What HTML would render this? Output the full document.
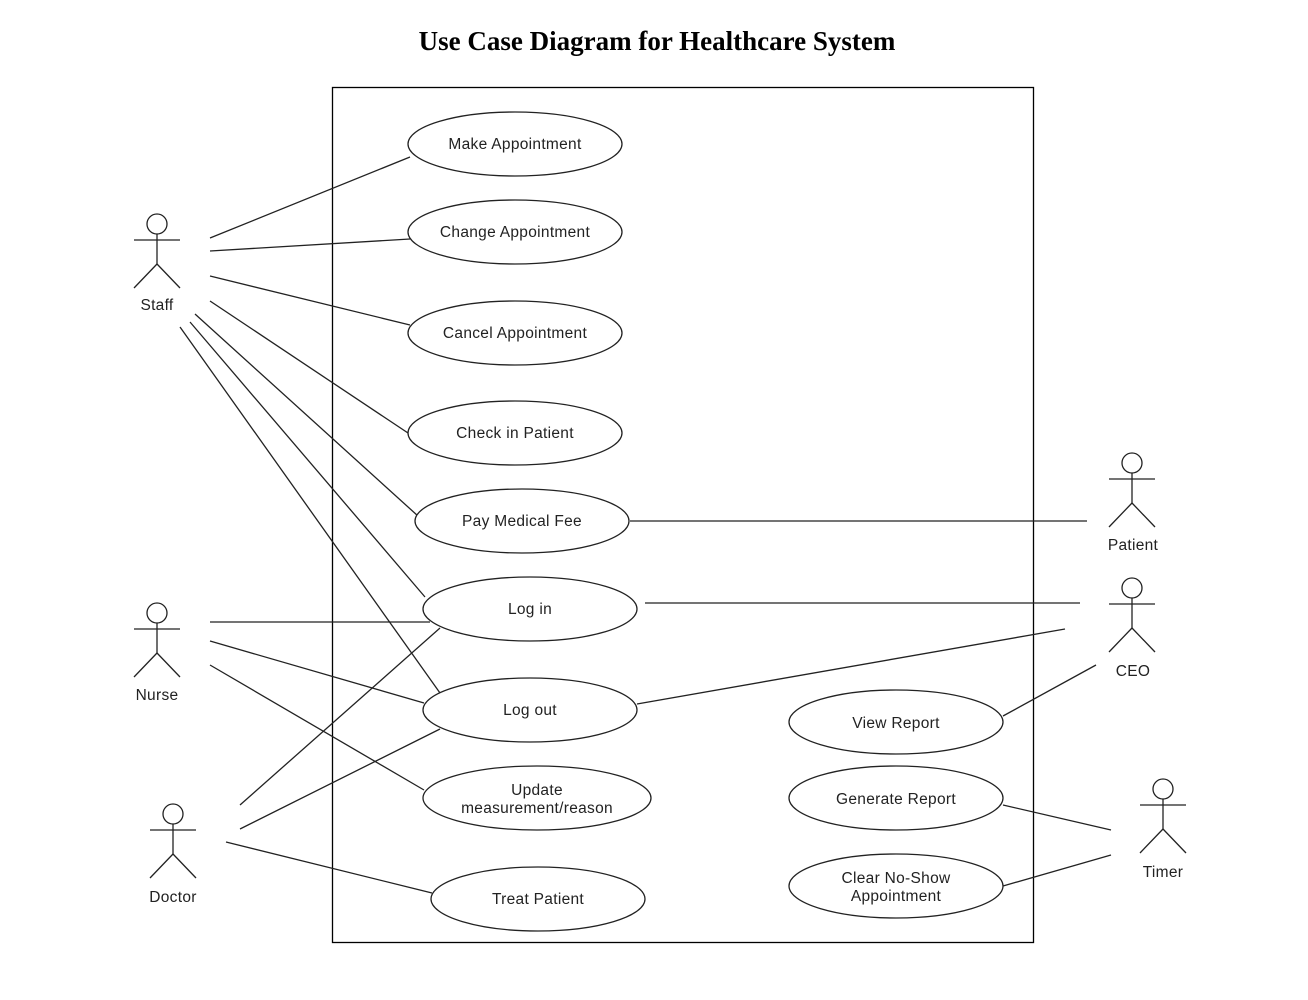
<!DOCTYPE html>
<html><head><meta charset="utf-8"><style>
html,body{margin:0;padding:0;background:#fff;}
svg{display:block;}
text{font-family:"Liberation Sans",sans-serif;font-size:15.5px;fill:#222;letter-spacing:0.3px;}
</style></head><body>
<svg width="1308" height="1000" viewBox="0 0 1308 1000" xmlns="http://www.w3.org/2000/svg">
<text x="657" y="50" text-anchor="middle" style="font-family:'Liberation Serif',serif;font-weight:bold;font-size:27px;fill:#000;letter-spacing:0">Use Case Diagram for Healthcare System</text>
<rect x="332.5" y="87.5" width="701" height="855" fill="none" stroke="#000" stroke-width="1.3"/>
<g fill="none" stroke="#222" stroke-width="1.3">
<line x1="210" y1="238" x2="410" y2="157"/>
<line x1="210" y1="251" x2="410" y2="239"/>
<line x1="210" y1="276" x2="410" y2="325"/>
<line x1="210" y1="301" x2="408" y2="433"/>
<line x1="195" y1="314" x2="418" y2="516"/>
<line x1="190" y1="322" x2="425" y2="597"/>
<line x1="180" y1="327" x2="440" y2="693"/>
<line x1="210" y1="622" x2="430" y2="622"/>
<line x1="210" y1="641" x2="424" y2="703"/>
<line x1="210" y1="665" x2="424" y2="790"/>
<line x1="240" y1="805" x2="440" y2="628"/>
<line x1="240" y1="829" x2="440" y2="729"/>
<line x1="226" y1="842" x2="432" y2="893"/>
<line x1="630" y1="521" x2="1087" y2="521"/>
<line x1="645" y1="603" x2="1080" y2="603"/>
<line x1="637" y1="704" x2="1065" y2="629"/>
<line x1="1003" y1="716" x2="1096" y2="665"/>
<line x1="1003" y1="805" x2="1111" y2="830"/>
<line x1="1003" y1="886" x2="1111" y2="855"/>
</g>
<g fill="#fff" stroke="#222" stroke-width="1.3">
<ellipse cx="515" cy="144" rx="107" ry="32"/>
<ellipse cx="515" cy="232" rx="107" ry="32"/>
<ellipse cx="515" cy="333" rx="107" ry="32"/>
<ellipse cx="515" cy="433" rx="107" ry="32"/>
<ellipse cx="522" cy="521" rx="107" ry="32"/>
<ellipse cx="530" cy="609" rx="107" ry="32"/>
<ellipse cx="530" cy="710" rx="107" ry="32"/>
<ellipse cx="537" cy="798" rx="114" ry="32"/>
<ellipse cx="538" cy="899" rx="107" ry="32"/>
<ellipse cx="896" cy="722" rx="107" ry="32"/>
<ellipse cx="896" cy="798" rx="107" ry="32"/>
<ellipse cx="896" cy="886" rx="107" ry="32"/>
</g>
<g text-anchor="middle">
<text x="515" y="149">Make Appointment</text>
<text x="515" y="237">Change Appointment</text>
<text x="515" y="338">Cancel Appointment</text>
<text x="515" y="438">Check in Patient</text>
<text x="522" y="526">Pay Medical Fee</text>
<text x="530" y="614">Log in</text>
<text x="530" y="715">Log out</text>
<text x="537" y="795">Update</text>
<text x="537" y="813">measurement/reason</text>
<text x="538" y="904">Treat Patient</text>
<text x="896" y="728">View Report</text>
<text x="896" y="804">Generate Report</text>
<text x="896" y="883">Clear No-Show</text>
<text x="896" y="901">Appointment</text>
</g>
<defs>
<g id="actor" fill="none" stroke="#222" stroke-width="1.3">
<circle cx="0" cy="0" r="10"/>
<line x1="0" y1="10" x2="0" y2="40"/>
<line x1="-23" y1="16" x2="23" y2="16"/>
<line x1="0" y1="40" x2="-23" y2="64"/>
<line x1="0" y1="40" x2="23" y2="64"/>
</g>
</defs>
<use href="#actor" x="157" y="224"/>
<use href="#actor" x="157" y="613"/>
<use href="#actor" x="173" y="814"/>
<use href="#actor" x="1132" y="463"/>
<use href="#actor" x="1132" y="588"/>
<use href="#actor" x="1163" y="789"/>
<g text-anchor="middle">
<text x="157" y="310">Staff</text>
<text x="157" y="700">Nurse</text>
<text x="173" y="902">Doctor</text>
<text x="1133" y="550">Patient</text>
<text x="1133" y="676">CEO</text>
<text x="1163" y="877">Timer</text>
</g>
</svg>
</body></html>
